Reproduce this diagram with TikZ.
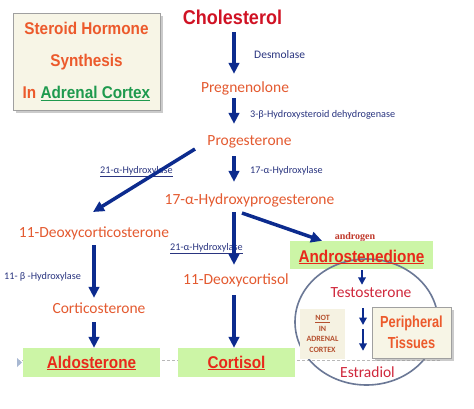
\documentclass[tikz,border=0pt]{standalone}
\usepackage{fontspec}
\setmainfont{Carlito}
\newfontfamily\narrow[FakeStretch=0.9]{Liberation Sans}
\newfontfamily\narrowc[FakeStretch=0.8]{Liberation Sans}
\newfontfamily\serifb{Liberation Serif}
\usetikzlibrary{arrows.meta,shapes.geometric,shadows,calc}
\definecolor{cmpcol}{HTML}{E45A30}
\definecolor{cholred}{HTML}{D01224}
\definecolor{boldred}{HTML}{E8281A}
\definecolor{titleor}{HTML}{EC5A2C}
\definecolor{titlegr}{HTML}{1F9A4E}
\definecolor{enzcol}{HTML}{2A3580}
\definecolor{arrblue}{HTML}{0C2B8E}
\definecolor{testored}{HTML}{D0283C}
\definecolor{cream}{HTML}{F7F5E6}
\definecolor{notcream}{HTML}{F5F2E2}
\definecolor{boxgreen}{HTML}{CCF5A6}
\definecolor{notcol}{HTML}{B5502E}
\definecolor{ellcol}{HTML}{6B7896}
\definecolor{dashgray}{HTML}{B8B8B8}
\definecolor{boxgray}{HTML}{A0A0A0}
\definecolor{tricol}{HTML}{A8B8D2}
\definecolor{androcol}{HTML}{C0392B}
\begin{document}
\begin{tikzpicture}[x=1pt,y=-1pt,
  cmp/.style={font=\fontsize{15.5}{18}\selectfont, text=cmpcol, inner sep=0pt, text height=11pt, text depth=4pt, anchor=base},
  enz/.style={font=\fontsize{10.2}{12}\selectfont, text=enzcol, inner sep=0pt, anchor=base west},
  arr/.style={draw=arrblue, line width=3.5pt, -{Triangle[length=11pt,width=10.5pt]}},
  sarr/.style={draw=arrblue, line width=2.4pt, -{Triangle[length=7.5pt,width=7.5pt]}},
  boldbox/.style={fill=boxgreen, draw=none, inner sep=0pt, text height=14.5pt, text depth=3.5pt, font=\narrow\bfseries\fontsize{17}{20}\selectfont, text=boldred},
  shadowbox/.style={fill=cream, draw=boxgray, line width=0.8pt, inner sep=0pt, align=center, drop shadow={shadow xshift=2.5pt, shadow yshift=-2.5pt, fill=black!40, opacity=0.5}}
]
\useasboundingbox (0,0) rectangle (474,408);
\fill[white] (0,0) rectangle (474,408);

% dashed slide line and marker
\draw[dashgray, line width=0.7pt, dash pattern=on 3pt off 2pt] (17,360) -- (440,360);
\fill[tricol] (17,358) -- (17,367) -- (22,362.5) -- cycle;

% title box
\node[shadowbox, minimum width=147pt, minimum height=97pt, font=\narrow\bfseries\fontsize{17}{32}\selectfont] (title) at (86.5,61.5)
  {\textcolor{titleor}{Steroid Hormone}\\ \textcolor{titleor}{Synthesis}\\ \textcolor{titleor}{In} \textcolor{titlegr}{\underline{Adrenal Cortex}}};

% compounds
\node[cmp, font=\narrow\bfseries\fontsize{20}{24}\selectfont, text=cholred, text height=14pt, text depth=2pt] (chol) at (232.5,24) {Cholesterol};
\node[cmp] (preg) at (245,92) {Pregnenolone};
\node[cmp] (prog) at (249.5,145) {Progesterone};
\node[cmp] (ohp) at (249.5,204) {17-α-Hydroxyprogesterone};
\node[cmp] (doc) at (94,237) {11-Deoxycorticosterone};
\node[cmp] (dcl) at (236,284) {11-Deoxycortisol};
\node[cmp] (cortico) at (99,313) {Corticosterone};

% enzymes
\node[enz, font=\fontsize{11.5}{13}\selectfont] (desm) at (254,58) {Desmolase};
\node[enz] (hsd) at (250,117) {3-β-Hydroxysteroid dehydrogenase};
\node[enz] (h17) at (250,173) {17-α-Hydroxylase};
\node[enz] (h21a) at (100,173) {\underline{21-α-Hydroxylase}};
\node[enz] (h21b) at (170,250) {\underline{21-α-Hydroxylase}};
\node[enz] (h11) at (4,279) {11- β -Hydroxylase};
\node[font=\serifb\bfseries\fontsize{10}{12}\selectfont, text=androcol, inner sep=0pt, anchor=base] (andg) at (355,239) {androgen};

% androstenedione box, ellipse, inner nodes
\node[fill=boxgreen, minimum width=143pt, minimum height=28pt, inner sep=0pt] (andro) at (361.5,255) {};
\node[ellipse, draw=ellcol, line width=1.6pt, minimum width=143pt, minimum height=126pt, inner sep=0pt] (ell) at (366.5,322) {};
\node[boldbox, fill=none] (androt) at ($(andro)+(0,1.5)$) {\underline{Androstenedione}};
\node[cmp, text=testored] (testo) at (371,297) {Testosterone};
\node[cmp, text=testored] (estr) at (367.5,377) {Estradiol};
\node[fill=notcream, minimum width=45pt, minimum height=50pt, inner sep=0pt, align=center, font=\bfseries\fontsize{8}{10.7}\selectfont, text=notcol] (notb) at (322.5,334) {\underline{NOT}\\IN\\ADRENAL\\CORTEX};
\node[shadowbox, minimum width=79pt, minimum height=51pt, font=\narrowc\bfseries\fontsize{16}{21}\selectfont, text=titleor] (peri) at (411.5,332.5) {Peripheral\\Tissues};

% final products
\node[boldbox, minimum width=137pt, minimum height=29pt] (aldo) at (91.5,362.5) {\underline{Aldosterone}};
\node[boldbox, minimum width=117pt, minimum height=29pt] (cortisol) at (236.5,362.5) {\underline{Cortisol}};

% axes
\coordinate (axis) at (234,0);
\coordinate (laxis) at (94,0);
\coordinate (raxis) at (362,0);
\coordinate (raxisb) at (363,0);
\coordinate (mid) at (363,327);

% arrows
\draw[arr, shorten <=6pt, shorten >=7pt] (chol.south -| axis) -- (preg.north -| axis);
\draw[arr, shorten <=2pt, shorten >=10pt] (preg.south -| axis) -- (prog.north -| axis);
\draw[arr, shorten <=7pt, shorten >=11pt] (prog.south -| axis) -- (ohp.north -| axis);
\draw[arr, shorten <=4pt, shorten >=8pt] (ohp.south -| axis) -- (dcl.north -| axis);
\draw[arr, shorten <=7pt] (dcl.south -| axis) -- (cortisol.north -| axis);
\draw[arr, shorten <=4pt, shorten >=4pt] (doc.south -| laxis) -- (cortico.north -| laxis);
\draw[arr, shorten <=5pt] (cortico.south -| laxis) -- (aldo.north -| laxis);
\draw[arr] ($(prog.base)+(-54.5,4)$) -- ($(doc.base)+(-1,-25)$);
\draw[arr] ($(ohp.base)+(-7.5,9)$) -- ($(andro.north)+(-39.5,0)$);
\draw[sarr, shorten <=1pt, shorten >=1pt] (andro.south -| raxis) -- (testo.north -| raxis);
\draw[sarr, shorten <=7pt, shorten >=2pt] (testo.south -| raxisb) -- (mid);
\draw[sarr, shorten <=2pt, shorten >=15pt] (mid) -- (estr.north -| raxisb);
\end{tikzpicture}
\end{document}
